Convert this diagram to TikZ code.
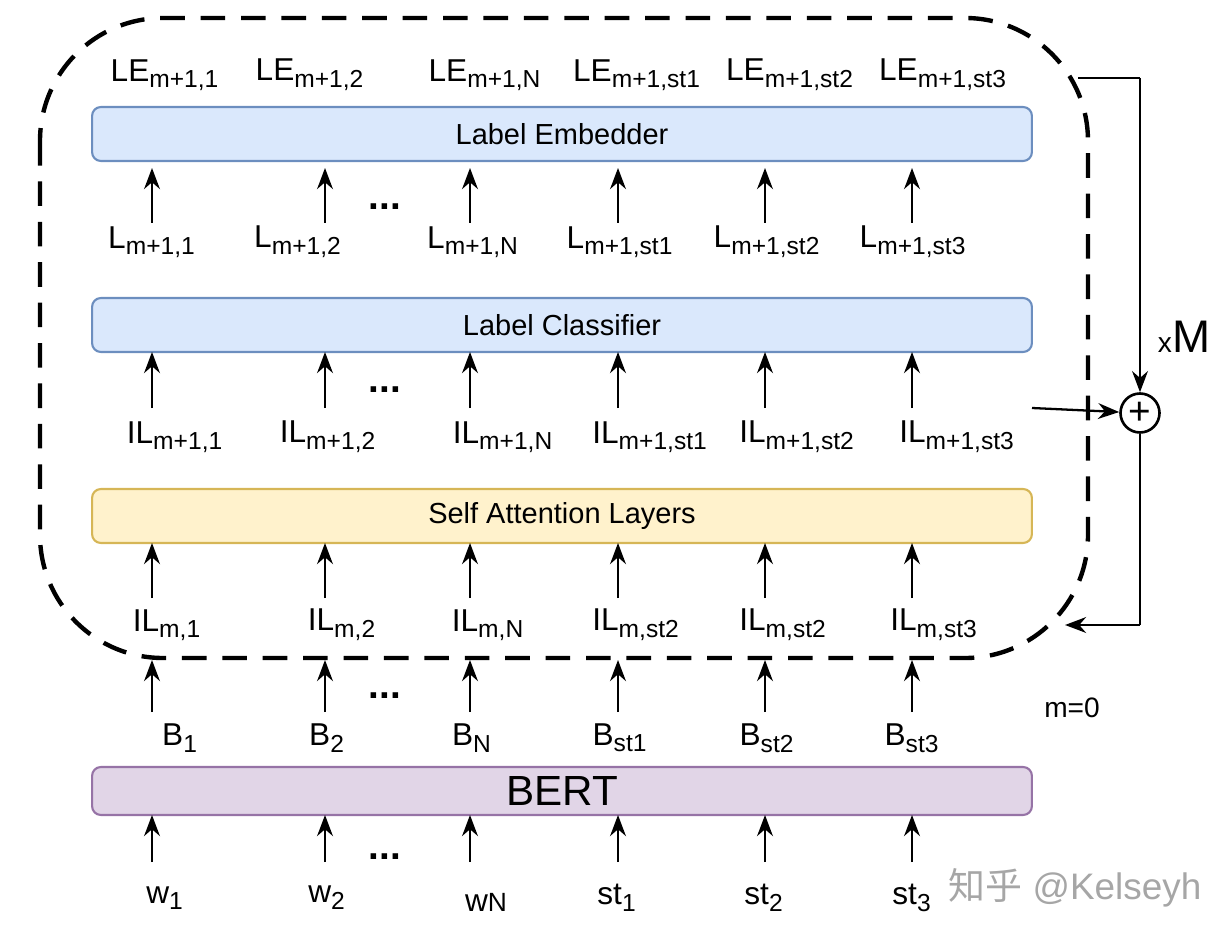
\documentclass[tikz,border=0pt]{standalone}
\usepackage{fontspec}
\setmainfont{Liberation Sans}
\newfontfamily\cjk{Noto Sans CJK SC}
\usetikzlibrary{arrows.meta}
\definecolor{bfill}{HTML}{DAE8FC}\definecolor{bdraw}{HTML}{6C8EBF}
\definecolor{yfill}{HTML}{FFF2CC}\definecolor{ydraw}{HTML}{D6B656}
\definecolor{pfill}{HTML}{E1D5E7}\definecolor{pdraw}{HTML}{9673A6}
\newcommand{\sbs}[1]{\textsubscript{\fontsize{14}{14}\selectfont #1}}
\begin{document}
\begin{tikzpicture}[x=0.02cm,y=-0.02cm,
 box/.style={draw=#1draw,fill=#1fill,line width=1.2pt,rounded corners=5pt,minimum width=18.8cm,minimum height=1.08cm,font=\fontsize{16.5}{19}\selectfont},
 lab/.style={font=\fontsize{18}{21}\selectfont,inner sep=1pt},
 arr/.style={-{Stealth[length=12pt,width=9pt]},line width=1.3pt},
 dots/.style={font=\fontsize{22}{22}\selectfont\bfseries}]
\useasboundingbox (0,0) rectangle (1232,946);
\draw[line width=2.5pt,dash pattern=on 14pt off 9pt,rounded corners=70] (40,18) rectangle (1088,658);
\node[box=b] (emb) at (562,134) {Label Embedder};
\node[box=b] (cls) at (562,325) {Label Classifier};
\node[box=y] (sa) at (562,516) {Self Attention Layers};
\node[box=p,font=\fontsize{24}{28}\selectfont,minimum height=0.96cm] (bert) at (562,791) {BERT};
\foreach \x/\s [count=\i] in {165/{m+1,1},310/{m+1,2},485/{m+1,N},637/{m+1,st1},790/{m+1,st2},943/{m+1,st3}}
  \node[lab] (le\i) at (\x,75) {LE\sbs{\s}};
\foreach \x/\s [count=\i] in {152/{m+1,1},298/{m+1,2},473/{m+1,N},620/{m+1,st1},767/{m+1,st2},913/{m+1,st3}}
  {\node[lab] (l\i) at (\x,242) {L\sbs{\s}};}
\foreach \x/\s [count=\i] in {175/{m+1,1},328/{m+1,2},503/{m+1,N},650/{m+1,st1},797/{m+1,st2},957/{m+1,st3}}
  {\node[lab] (il\i) at (\x,437) {IL\sbs{\s}};}
\foreach \x/\s [count=\i] in {167/{m,1},342/{m,2},488/{m,N},636/{m,st2},783/{m,st2},934/{m,st3}}
  {\node[lab] (ilm\i) at (\x,625) {IL\sbs{\s}};}
\foreach \x/\s [count=\i] in {180/{1},327/{2},472/{N},620/{st1},767/{st2},912/{st3}}
  {\node[lab] (b\i) at (\x,738) {B\sbs{\s}};}
\node[lab] (w1) at (165,898) {w\sbs{1}};
\node[lab] (w2) at (327,898) {w\sbs{2}};
\node[lab] (w3) at (486,902) {w{\fontsize{15}{15}\selectfont N}};
\node[lab] (w4) at (617,898) {st\sbs{1}};
\node[lab] (w5) at (764,898) {st\sbs{2}};
\node[lab] (w6) at (912,898) {st\sbs{3}};
\foreach \x [count=\i] in {152,325,470,618,765,912}{
  \coordinate (a\i) at (\x,223); \draw[arr] (a\i) -- (\x,168);
  \coordinate (c\i) at (\x,408); \draw[arr] (c\i) -- (\x,352);
  \coordinate (s\i) at (\x,598); \draw[arr] (s\i) -- (\x,543);
  \coordinate (d\i) at (\x,712); \draw[arr] (d\i) -- (\x,660);
  \coordinate (e\i) at (\x,862); \draw[arr] (e\i) -- (\x,815);
}
\foreach \y in {207,390,696,857} \node[dots] at (385,\y) {...};
\node[draw,circle,line width=1.5pt,minimum size=0.78cm,inner sep=0pt,font=\fontsize{22}{22}\selectfont] (plus) at (1140,413) {+};
\coordinate (t1) at (1078,78); \coordinate (t2) at (1140,78);
\draw[line width=1.3pt] (t1) -- (t2);
\draw[arr] (t2) -- (plus);
\coordinate (in) at (1032,408);
\draw[arr] (in) -- (plus);
\coordinate (bt) at (1140,625); \coordinate (bl) at (1065,625);
\draw[line width=1.3pt] (plus) -- (bt);
\draw[arr] (bt) -- (bl);
\node[font=\fontsize{16}{18}\selectfont,anchor=base] (xm) at (1184,352) {x\fontsize{26}{28}\selectfont M};
\node[font=\fontsize{16}{18}\selectfont] (m0) at (1072,708) {m=0};
\node[text=gray!70,font=\fontsize{21}{24}\selectfont] (wm) at (1075,888) {{\cjk 知乎} @Kelseyh};
\end{tikzpicture}
\end{document}
